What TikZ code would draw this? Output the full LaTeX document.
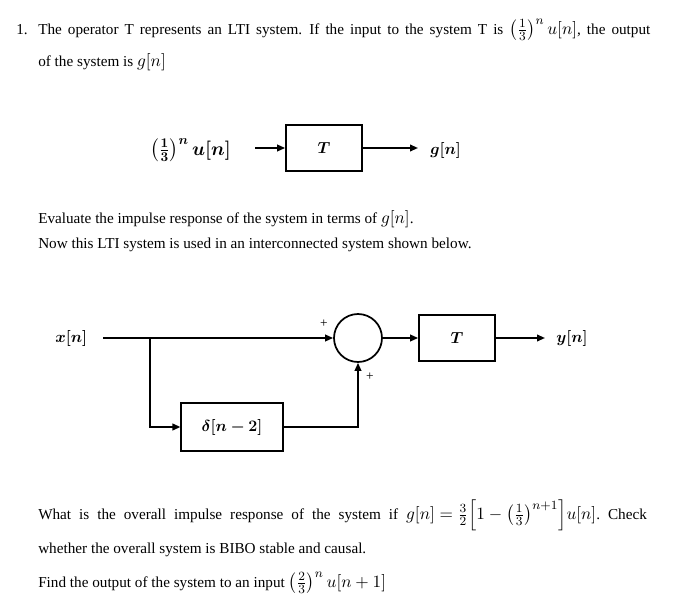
\documentclass[tikz,border=0pt]{standalone}
\usepackage{amsmath,bm,graphicx}
\usepackage{fontspec}
\setmainfont{Liberation Serif}
\usetikzlibrary{arrows.meta}
\tikzset{blk/.style={draw,line width=1.3pt,minimum width=57pt,minimum height=34pt,inner sep=0pt,font=\large},
 wire/.style={line width=1.3pt},
 arr/.style={wire,-{Triangle[length=6pt,width=5pt]}},
 lab/.style={anchor=west,inner sep=0pt,font=\large},
 txt/.style={anchor=west,inner sep=0pt,font=\fontsize{11.4pt}{13pt}\selectfont}}
\newcommand{\wsp}{\hspace{6.0pt}}
\newcommand{\mth}[1]{\scalebox{1.18}{$#1$}}
\begin{document}
\begin{tikzpicture}[x=0.75pt,y=-0.75pt]
\useasboundingbox (0,0) rectangle (676,614);
\node[txt] (l1) at (16,30) {\spaceskip=4.5pt 1.\hspace{8pt}The operator T represents an LTI system. If the input to the system T is \mth{\left(\frac{1}{3}\right)^n u[n]}, the output};
\node[txt] (l2) at (38,62) {of the system is \mth{g[n]}};
% top diagram
\node[lab,font=\Large] (in1) at (150,150) {$\left(\frac{\bm 1}{\bm 3}\right)^{\bm n}\bm{u[n]}$};
\node[blk] (T1) at (324,148) {$\bm T$};
\node[lab] (g1) at (430,150) {$\bm{g[n]}$};
\draw[arr] (255,148) -- (T1.west);
\draw[arr] (T1.east) -- (418,148);
\node[txt] (l3) at (38,219) {Evaluate the impulse response of the system in terms of \mth{g[n]}.};
\node[txt] (l4) at (38,245) {Now this LTI system is used in an interconnected system shown below.};
% second diagram
\node[lab] (x) at (55,338) {$\bm{x[n]}$};
\node[draw,circle,line width=1.3pt,minimum size=36pt,inner sep=0pt] (s) at (358,338) {};
\node[blk] (T2) at (457,338) {$\bm T$};
\node[lab] (y) at (556,338) {$\bm{y[n]}$};
\node[blk,minimum width=76pt,minimum height=36pt] (d) at (232,427) {$\bm{\delta[n-2]}$};
\coordinate (br) at (150,338);
\coordinate (c1) at (150,427);
\coordinate (c2) at (358,427);
\draw[arr] (103,338) -- (s.west);
\draw[arr] (s.east) -- (T2.west);
\draw[arr] (T2.east) -- (545,338);
\draw[arr] (br) -- (c1) -- (d.west);
\draw[arr] (d.east) -- (c2) -- (s.south);
\node (p1) at (324,324) {+};
\node (p2) at (370,377) {+};
\node[txt] (l5) at (38,515) {What\wsp is\wsp the\wsp overall\wsp impulse\wsp response\wsp of\wsp the\wsp system\wsp if\wsp \mth{g[n]=\frac{3}{2}\Bigl[1-\bigl(\frac{1}{3}\bigr)^{n+1}\Bigr]u[n]}.\wsp Check};
\node[txt] (l6) at (38,550) {whether the overall system is BIBO stable and causal.};
\node[txt] (l7) at (38,583) {Find the output of the system to an input \mth{\left(\frac{2}{3}\right)^n u[n+1]}};
\end{tikzpicture}
\end{document}
